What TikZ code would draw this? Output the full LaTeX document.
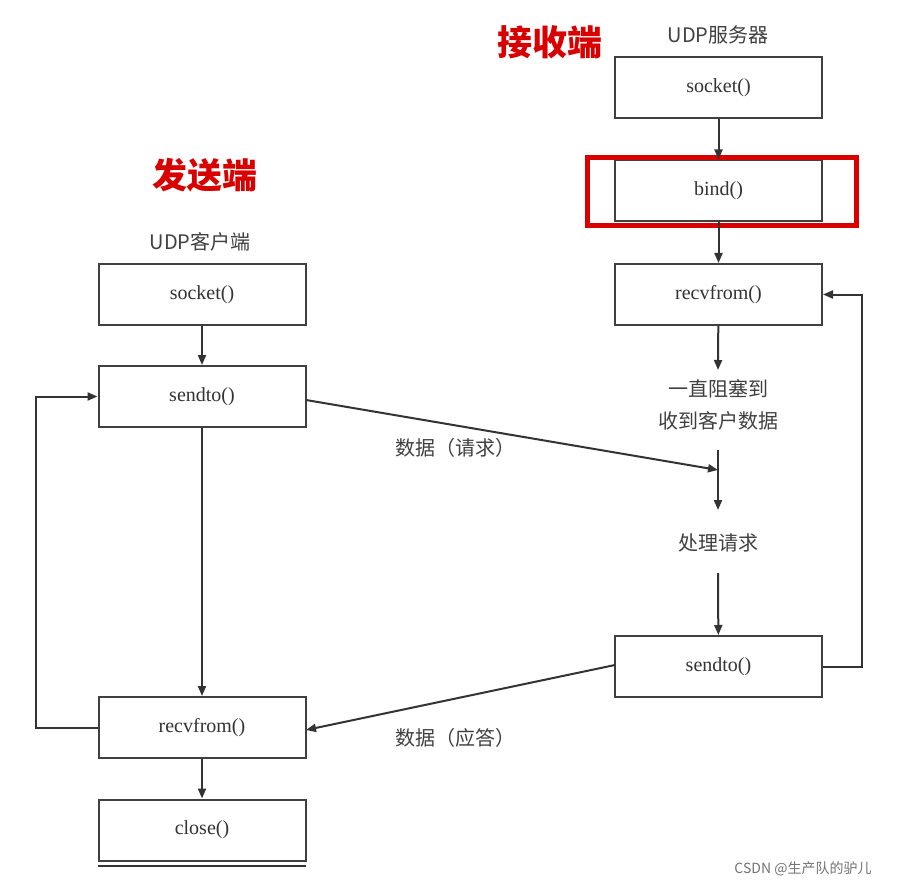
\documentclass[tikz,border=0pt]{standalone}
\usepackage{fontspec}
\setmainfont{Liberation Serif}
\newfontfamily\cjk{Noto Sans CJK SC}
\usetikzlibrary{arrows.meta}
\begin{document}
\begin{tikzpicture}[x=1pt,y=-1pt,
 box/.style={draw=black!75,line width=2pt,minimum width=207pt,minimum height=61pt,font=\fontsize{20}{22}\selectfont,text=black!80},
 lbl/.style={font=\cjk\fontsize{20}{22}\selectfont,text=black!75},
 red/.style={font=\cjk\bfseries\fontsize{35}{38}\selectfont,text=red!85!black},
 arr/.style={draw=black!80,line width=2pt,-{Triangle[length=10pt,width=8pt]}},
 ln/.style={draw=black!80,line width=2.5pt}]
\useasboundingbox (0,0) rectangle (914,888);
\fill[white] (0,0) rectangle (914,888);
% server
\node[lbl] (ts) at (718,35) {UDP服务器};
\node[red] (rs) at (550,42) {接收端};
\node[box] (ssock) at (718.5,87.5) {socket()};
\node[box] (sbind) at (718.5,191) {bind()};
\draw[draw=red!85!black,line width=5pt] (587,158) rectangle (856,226);
\node[box] (srecv) at (718.5,294.5) {recvfrom()};
\node[lbl,align=center] (sblock) at (718,405) {一直阻塞到\\[10pt]收到客户数据};
\coordinate (sb2) at (718,450);
\coordinate (sin) at (718,470);
\node[lbl] (sproc) at (718,543) {处理请求};
\coordinate (sp2) at (718,573);
\node[box] (ssend) at (718.5,666.5) {sendto()};
\draw[arr] (ssock) -- (sbind);
\draw[arr] (sbind) -- (srecv);
\draw[arr] (srecv) -- (718,370);
\draw[arr] (sb2) -- (718,510);
\draw[arr] (sp2) -- (ssend);
\draw[arr] (ssend.east) -- (862,666.5) |- (srecv.east);
% client
\node[red] (rc) at (205,175) {发送端};
\node[lbl] (tc) at (200,242) {UDP客户端};
\node[box] (csock) at (202,294.5) {socket()};
\node[box] (csend) at (202,396.5) {sendto()};
\node[box] (crecv) at (202,727.5) {recvfrom()};
\node[box] (cclose) at (202,830) {close()};
\draw[ln] (98,866) -- (306,866);
\draw[arr] (csock) -- (csend);
\draw[arr] (csend) -- (crecv);
\draw[arr] (crecv) -- (cclose);
\draw[arr] (crecv.west) -- (36,727.5) |- (csend.west);
% cross
\draw[arr] (306,400) -- (sin);
\node[lbl] (lq) at (455,448) {数据（请求）};
\draw[arr] (615,665) -- (306,730);
\node[lbl] (la) at (455,738) {数据（应答）};
\node[font=\cjk\fontsize{14}{16}\selectfont,text=black!55] (wm) at (803,869) {CSDN @生产队的驴儿};
\end{tikzpicture}
\end{document}
